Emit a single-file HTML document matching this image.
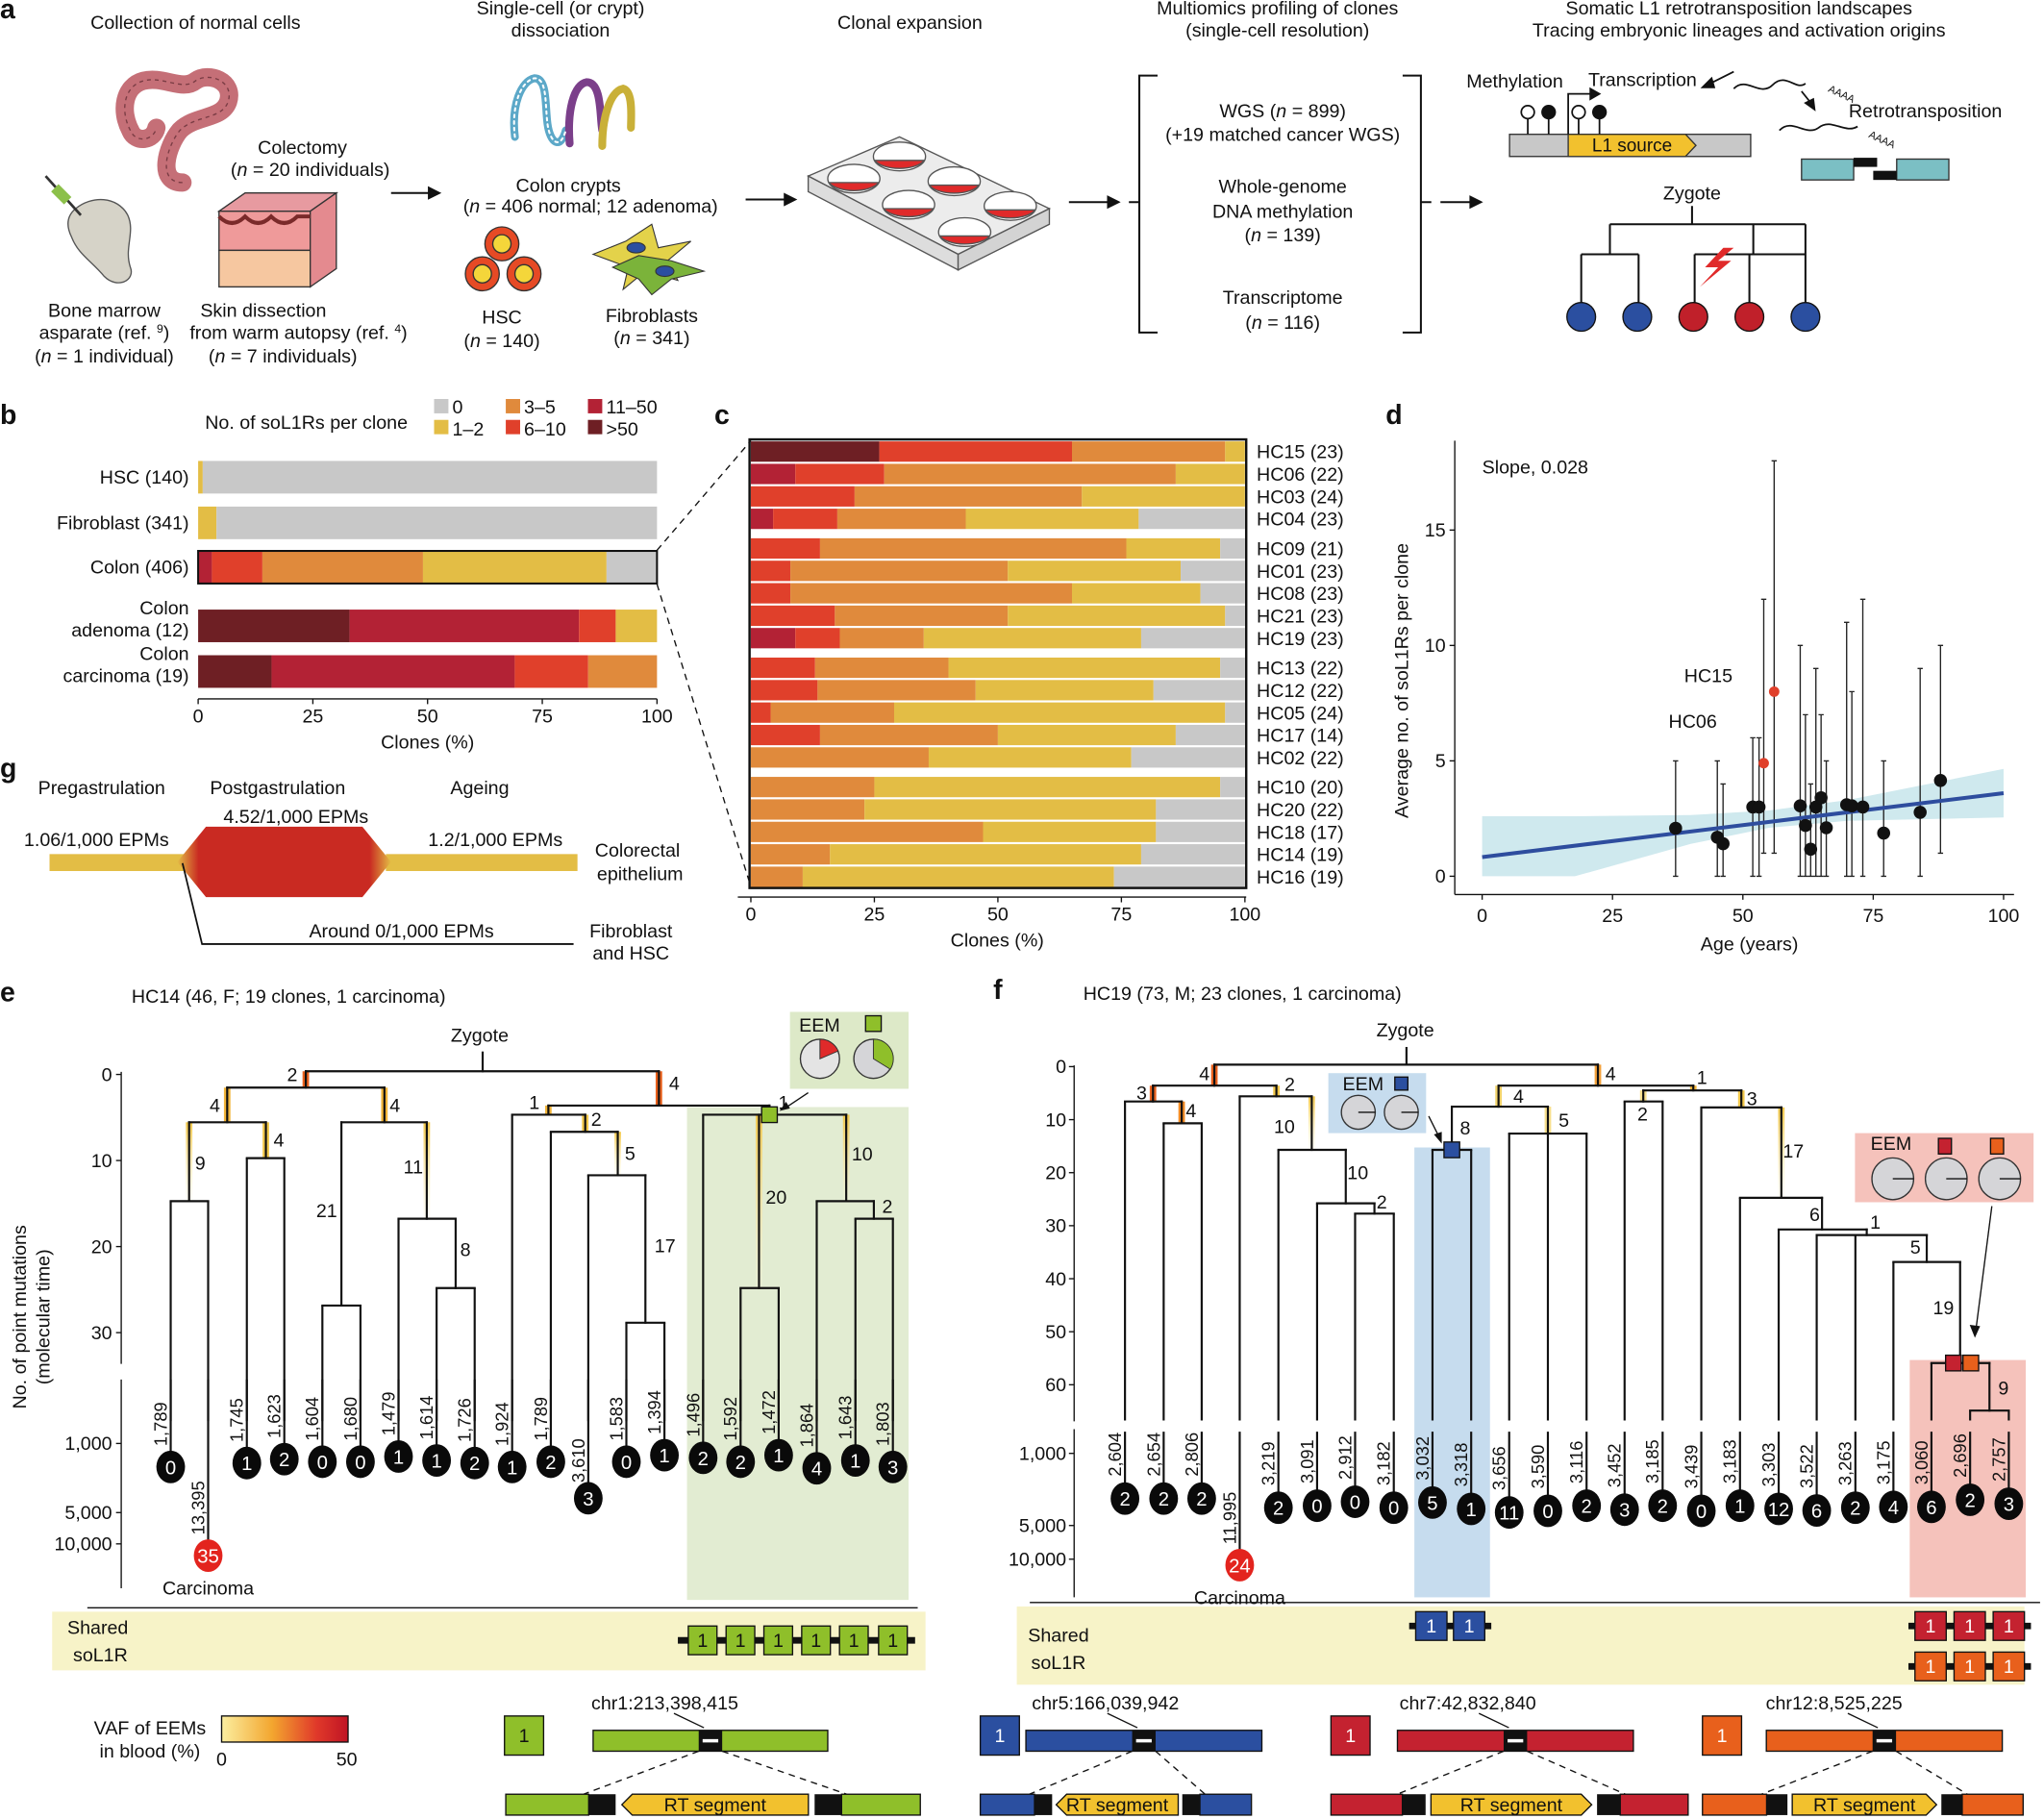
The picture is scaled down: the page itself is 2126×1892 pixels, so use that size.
<!DOCTYPE html>
<html><head><meta charset="utf-8"><style>
html,body{margin:0;padding:0;background:#fff;}
svg{display:block;font-family:"Liberation Sans",Arial,sans-serif;}
</style></head><body>
<svg id="fig" width="2126" height="1892" viewBox="0 0 1568 1395" preserveAspectRatio="none" xmlns="http://www.w3.org/2000/svg" font-size="14.5" fill="#111">
<defs>
<linearGradient id="vaf" x1="0" x2="1" y1="0" y2="0"><stop offset="0" stop-color="#fbeea0"/><stop offset="0.4" stop-color="#f3a62f"/><stop offset="0.75" stop-color="#e0392a"/><stop offset="1" stop-color="#c01424"/></linearGradient>
<linearGradient id="hex" x1="0" x2="1"><stop offset="0" stop-color="#e3bd45"/><stop offset="0.1" stop-color="#c92a22"/><stop offset="0.9" stop-color="#c92a22"/><stop offset="1" stop-color="#e3bd45"/></linearGradient>
<linearGradient id="fadeY" x1="0" x2="0" y1="0" y2="1"><stop offset="0" stop-color="#f2c84b"/><stop offset="1" stop-color="#fff8d8" stop-opacity="0.2"/></linearGradient>
</defs>

<!-- ============ PANEL A ============ -->
<g>
<text x="0" y="14" font-size="21" font-weight="bold">a</text>
<text x="150" y="22" text-anchor="middle">Collection of normal cells</text>
<text x="430" y="11" text-anchor="middle">Single-cell (or crypt)</text>
<text x="430" y="28" text-anchor="middle">dissociation</text>
<text x="698" y="22" text-anchor="middle">Clonal expansion</text>
<text x="980" y="11" text-anchor="middle">Multiomics profiling of clones</text>
<text x="980" y="28" text-anchor="middle">(single-cell resolution)</text>
<text x="1334" y="11" text-anchor="middle">Somatic L1 retrotransposition landscapes</text>
<text x="1334" y="28" text-anchor="middle">Tracing embryonic lineages and activation origins</text>

<path d="M140 140 C120 140 128 112 138 100 C150 88 170 92 175 78 C180 62 160 55 150 62 C140 70 125 58 110 62 C95 66 92 85 100 100 C104 110 118 108 120 98" fill="none" stroke="#c56f77" stroke-width="14" stroke-linecap="round"/>
<path d="M140 140 C120 140 128 112 138 100 C150 88 170 92 175 78 C180 62 160 55 150 62 C140 70 125 58 110 62 C95 66 92 85 100 100 C104 110 118 108 120 98" fill="none" stroke="#7a3c44" stroke-width="1" stroke-dasharray="3 3"/>
<text x="232" y="118" text-anchor="middle">Colectomy</text>
<text x="238" y="135" text-anchor="middle">(<tspan font-style="italic">n</tspan> = 20 individuals)</text>
<path d="M58 160 C70 150 90 150 98 165 C104 178 95 190 100 205 C104 215 90 222 80 212 C70 200 60 195 55 182 C50 172 52 165 58 160Z" fill="#d6d3c8" stroke="#555" stroke-width="1"/>
<line x1="35" y1="135" x2="62" y2="165" stroke="#333" stroke-width="2"/>
<rect x="40" y="145" width="14" height="8" fill="#8cc04a" transform="rotate(45 47 149)"/>
<g>
<polygon points="168,162 238,162 258,148 188,148" fill="#e79aa0" stroke="#333" stroke-width="1"/>
<rect x="168" y="162" width="70" height="30" fill="#ef9a9a" stroke="#333" stroke-width="1"/>
<rect x="168" y="192" width="70" height="28" fill="#f6c7a0" stroke="#333" stroke-width="1"/>
<polygon points="238,162 258,148 258,206 238,220" fill="#e48a8f" stroke="#333" stroke-width="1"/>
<path d="M168 166 Q178 176 188 166 Q198 176 208 166 Q218 176 228 166 L238 166" fill="none" stroke="#7a2a2a" stroke-width="3"/>
</g>
<text x="80" y="243" text-anchor="middle">Bone marrow</text>
<text x="80" y="260" text-anchor="middle">asparate (ref. <tspan font-size="9" dy="-5">9</tspan><tspan dy="5">)</tspan></text>
<text x="80" y="278" text-anchor="middle">(<tspan font-style="italic">n</tspan> = 1 individual)</text>
<text x="202" y="243" text-anchor="middle">Skin dissection</text>
<text x="229" y="260" text-anchor="middle">from warm autopsy (ref. <tspan font-size="9" dy="-5">4</tspan><tspan dy="5">)</tspan></text>
<text x="217" y="278" text-anchor="middle">(<tspan font-style="italic">n</tspan> = 7 individuals)</text>
<g stroke="#111" stroke-width="1.5" fill="#111">
<line x1="300" y1="148" x2="332" y2="148"/><polygon points="337,148 329,144 329,152"/>
<line x1="572" y1="153" x2="604" y2="153"/><polygon points="610,153 602,149 602,157"/>
<line x1="820" y1="155" x2="852" y2="155"/><polygon points="858,155 850,151 850,159"/>
<line x1="1105" y1="155" x2="1130" y2="155"/><polygon points="1136,155 1128,151 1128,159"/>
</g>
<g fill="none" stroke-width="6" stroke-linecap="round">
<path d="M395 105 C392 80 400 62 410 60 C420 60 418 80 420 95 C422 110 430 115 434 100" stroke="#5ca8c8"/>
<path d="M437 110 C435 85 440 65 450 63 C462 63 460 90 462 100" stroke="#7b3f8a"/>
<path d="M462 112 C462 90 468 70 478 68 C486 70 484 90 484 98" stroke="#c9b038"/>
<path d="M395 105 C392 80 400 62 410 60 C420 60 418 80 420 95 C422 110 430 115 434 100" stroke="#fff" stroke-width="1.5" stroke-dasharray="2 3"/>
</g>
<text x="436" y="147" text-anchor="middle">Colon crypts</text>
<text x="453" y="163" text-anchor="middle">(<tspan font-style="italic">n</tspan> = 406 normal; 12 adenoma)</text>
<g stroke="#333" stroke-width="1">
<circle cx="385" cy="187" r="13" fill="#e64a25"/><circle cx="385" cy="187" r="7" fill="#f4d63a"/>
<circle cx="370" cy="210" r="13" fill="#e64a25"/><circle cx="370" cy="210" r="7" fill="#f4d63a"/>
<circle cx="402" cy="210" r="13" fill="#e64a25"/><circle cx="402" cy="210" r="7" fill="#f4d63a"/>
</g>
<text x="385" y="248" text-anchor="middle">HSC</text>
<text x="385" y="266" text-anchor="middle">(<tspan font-style="italic">n</tspan> = 140)</text>
<g stroke="#333" stroke-width="0.8">
<path d="M455 195 L480 185 L500 172 L505 190 L530 185 L512 200 L520 215 L495 208 L478 222 L482 205Z" fill="#e3d24a"/>
<path d="M470 205 L490 196 L515 200 L540 208 L515 214 L500 226 L490 214Z" fill="#7bb33a"/>
<ellipse cx="488" cy="190" rx="7" ry="4" fill="#2b4fa0"/><ellipse cx="510" cy="208" rx="7" ry="4" fill="#2b4fa0"/>
</g>
<text x="500" y="247" text-anchor="middle">Fibroblasts</text>
<text x="500" y="264" text-anchor="middle">(<tspan font-style="italic">n</tspan> = 341)</text>
<g stroke="#555" stroke-width="1">
<polygon points="620,135 690,105 805,160 735,195" fill="#ececec"/>
<polygon points="620,135 735,195 735,207 620,147" fill="#ddd"/>
<polygon points="735,195 805,160 805,172 735,207" fill="#d3d3d3"/>
<ellipse cx="655" cy="137" rx="20" ry="11" fill="#fff"/><path d="M636 140 A20 9 0 0 0 674 140Z" fill="#e02a2a"/>
<ellipse cx="690" cy="120" rx="20" ry="11" fill="#fff"/><path d="M671 123 A20 9 0 0 0 709 123Z" fill="#e02a2a"/>
<ellipse cx="697" cy="157" rx="20" ry="11" fill="#fff"/><path d="M678 160 A20 9 0 0 0 716 160Z" fill="#e02a2a"/>
<ellipse cx="732" cy="139" rx="20" ry="11" fill="#fff"/><path d="M713 142 A20 9 0 0 0 751 142Z" fill="#e02a2a"/>
<ellipse cx="740" cy="178" rx="20" ry="11" fill="#fff"/><path d="M721 181 A20 9 0 0 0 759 181Z" fill="#e02a2a"/>
<ellipse cx="775" cy="158" rx="20" ry="11" fill="#fff"/><path d="M756 161 A20 9 0 0 0 794 161Z" fill="#e02a2a"/>
</g>
<g stroke="#111" stroke-width="1.5" fill="none">
<path d="M888 58 L874 58 L874 255 L888 255 M874 155 L866 155"/>
<path d="M1076 58 L1090 58 L1090 255 L1076 255 M1090 155 L1098 155"/>
</g>
<text x="984" y="90" text-anchor="middle">WGS (<tspan font-style="italic">n</tspan> = 899)</text>
<text x="984" y="108" text-anchor="middle">(+19 matched cancer WGS)</text>
<text x="984" y="148" text-anchor="middle">Whole-genome</text>
<text x="984" y="167" text-anchor="middle">DNA methylation</text>
<text x="984" y="185" text-anchor="middle">(<tspan font-style="italic">n</tspan> = 139)</text>
<text x="984" y="233" text-anchor="middle">Transcriptome</text>
<text x="984" y="252" text-anchor="middle">(<tspan font-style="italic">n</tspan> = 116)</text>
<g>
<text x="1162" y="67" text-anchor="middle">Methylation</text>
<text x="1260" y="66" text-anchor="middle">Transcription</text>
<rect x="1158" y="103" width="185" height="17" fill="#c8c8c8" stroke="#333" stroke-width="1"/>
<polygon points="1203,103 1293,103 1301,111.5 1293,120 1203,120" fill="#f2c12e" stroke="#333" stroke-width="1"/>
<text x="1252" y="116" text-anchor="middle" font-size="14">L1 source</text>
<g stroke="#111" stroke-width="1.3">
<line x1="1172" y1="103" x2="1172" y2="88"/><circle cx="1172" cy="86" r="5" fill="#fff"/>
<line x1="1188" y1="103" x2="1188" y2="88"/><circle cx="1188" cy="86" r="5" fill="#111"/>
<line x1="1211" y1="103" x2="1211" y2="88"/><circle cx="1211" cy="86" r="5" fill="#fff"/>
<line x1="1227" y1="103" x2="1227" y2="88"/><circle cx="1227" cy="86" r="5" fill="#111"/>
<path d="M1203 103 L1203 72 L1222 72" fill="none"/><polygon points="1227,72 1220,68 1220,76" fill="#111"/>
<path d="M1330 68 C1340 58 1350 75 1360 65 C1370 55 1378 70 1385 64" fill="none"/>
<path d="M1365 100 C1375 90 1385 105 1395 98 C1405 90 1415 103 1425 97" fill="none"/>
<path d="M1330 55 L1310 65" /><polygon points="1306,67 1313,60 1315,67" fill="#111"/>
<path d="M1382 70 L1390 80" /><polygon points="1392,84 1385,79 1391,76" fill="#111"/>
</g>
<text x="1402" y="70" font-size="8" transform="rotate(25 1402 70)">AAAA</text>
<text x="1433" y="105" font-size="8" transform="rotate(25 1433 105)">AAAA</text>
<text x="1477" y="90" text-anchor="middle">Retrotransposition</text>
<rect x="1382" y="122" width="40" height="16" fill="#7bbfc4" stroke="#333" stroke-width="1"/>
<rect x="1455" y="122" width="40" height="16" fill="#7bbfc4" stroke="#333" stroke-width="1"/>
<rect x="1422" y="121" width="18" height="7" fill="#111"/><rect x="1437" y="131" width="18" height="7" fill="#111"/>
<text x="1298" y="153" text-anchor="middle">Zygote</text>
<path d="M1298 158 L1298 172 M1235 172 L1385 172 M1235 172 L1235 195 M1213 195 L1257 195 M1213 195 L1213 232 M1257 195 L1257 232 M1345 172 L1345 195 M1300 195 L1385 195 M1300 195 L1300 232 M1342 195 L1342 232 M1385 172 L1385 232" stroke="#111" stroke-width="1.5" fill="none"/>
<polygon points="1322,190 1308,205 1318,205 1304,220 1328,200 1318,200 1330,190" fill="#e02a2a"/>
<circle cx="1213" cy="243" r="11" fill="#2b4fa0" stroke="#111"/>
<circle cx="1256" cy="243" r="11" fill="#2b4fa0" stroke="#111"/>
<circle cx="1299" cy="243" r="11" fill="#c0202a" stroke="#111"/>
<circle cx="1342" cy="243" r="11" fill="#c0202a" stroke="#111"/>
<circle cx="1385" cy="243" r="11" fill="#2b4fa0" stroke="#111"/>
</g>
</g>

<!-- ============ PANEL B ============ -->
<g id="panelB">
<text x="0" y="325" font-size="21" font-weight="bold">b</text>
<text x="235" y="329" text-anchor="middle">No. of soL1Rs per clone</text>
<g>
<rect x="333" y="306" width="11" height="11" fill="#c8c8c8"/><text x="347" y="317">0</text>
<rect x="333" y="322" width="11" height="11" fill="#e3bd45"/><text x="347" y="334">1–2</text>
<rect x="388" y="306" width="11" height="11" fill="#e08a3c"/><text x="402" y="317">3–5</text>
<rect x="388" y="322" width="11" height="11" fill="#e0402b"/><text x="402" y="334">6–10</text>
<rect x="451" y="306" width="11" height="11" fill="#b32235"/><text x="465" y="317">11–50</text>
<rect x="451" y="322" width="11" height="11" fill="#6e1f24"/><text x="465" y="334">&gt;50</text>
</g>
<line x1="152" y1="536" x2="504" y2="536" stroke="#111"/>
<text x="328" y="574" text-anchor="middle">Clones (%)</text>
<g stroke="#111" stroke-dasharray="5 4"><line x1="504" y1="422" x2="576" y2="338"/><line x1="504" y1="448" x2="576" y2="680"/></g>
</g>

<!-- ============ PANEL C ============ -->
<g id="panelC">
<text x="548" y="325" font-size="21" font-weight="bold">c</text>
<line x1="566" y1="688" x2="956" y2="688" stroke="#111"/>
<text x="765" y="726" text-anchor="middle">Clones (%)</text>
</g>

<!-- ============ PANEL D ============ -->
<g id="panelD">
<text x="1063" y="325" font-size="21" font-weight="bold">d</text>
<line x1="1116" y1="338" x2="1116" y2="686" stroke="#111"/>
<line x1="1116" y1="686" x2="1545" y2="686" stroke="#111"/>
<text x="1342" y="729" text-anchor="middle">Age (years)</text>
<text transform="translate(1080 522) rotate(-90)" text-anchor="middle">Average no. of soL1Rs per clone</text>
<text x="1137" y="363">Slope, 0.028</text>
<text x="1292" y="523">HC15</text>
<text x="1280" y="558">HC06</text>
</g>

<!-- ============ PANEL G ============ -->
<g>
<text x="0" y="596" font-size="21" font-weight="bold">g</text>
<text x="78" y="609" text-anchor="middle">Pregastrulation</text>
<text x="213" y="609" text-anchor="middle">Postgastrulation</text>
<text x="368" y="609" text-anchor="middle">Ageing</text>
<rect x="38" y="655" width="104" height="13" fill="#e3bd45"/>
<rect x="296" y="655" width="147" height="13" fill="#e3bd45"/>
<polygon points="136,661 158,634 278,634 300,661 278,688 158,688" fill="url(#hex)"/>
<text x="74" y="649" text-anchor="middle">1.06/1,000 EPMs</text>
<text x="227" y="631" text-anchor="middle">4.52/1,000 EPMs</text>
<text x="380" y="649" text-anchor="middle">1.2/1,000 EPMs</text>
<text x="489" y="657" text-anchor="middle">Colorectal</text>
<text x="491" y="675" text-anchor="middle">epithelium</text>
<path d="M140 662 L155 724 L440 724" fill="none" stroke="#111" stroke-width="1.3"/>
<text x="308" y="719" text-anchor="middle">Around 0/1,000 EPMs</text>
<text x="484" y="719" text-anchor="middle">Fibroblast</text>
<text x="484" y="736" text-anchor="middle">and HSC</text>
</g>

<!-- ============ PANEL E ============ -->
<g id="panelE">
<text x="0" y="768" font-size="21" font-weight="bold">e</text>
<text x="101" y="769">HC14 (46, F; 19 clones, 1 carcinoma)</text>
<rect x="527" y="849" width="170" height="378" fill="#e2ecd2"/>
<rect x="606" y="776" width="91" height="59" fill="#dde9c8"/>
<text x="613" y="791">EEM</text>
<rect x="664" y="779" width="12" height="12" fill="#8fbf2a" stroke="#111"/>
<circle cx="629" cy="812" r="15" fill="#e4e4e4" stroke="#333"/>
<path d="M629 812 L629 797 A15 15 0 0 1 643 806 Z" fill="#e02a2a" stroke="#333" stroke-width="0.7"/>
<circle cx="670" cy="812" r="15" fill="#d5d5d8" stroke="#333"/>
<path d="M670 812 L670 797 A15 15 0 0 1 683 820 Z" fill="#8fbf2a" stroke="#333" stroke-width="0.7"/>
<path d="M620 838 L602 850" stroke="#111"/><polygon points="598,852 603,845 606,850" fill="#111"/>
<text x="368" y="799" text-anchor="middle">Zygote</text>
<line x1="93" y1="822" x2="93" y2="1046" stroke="#111"/>
<line x1="93" y1="1058" x2="93" y2="1218" stroke="#111"/>
<text transform="translate(20 1010) rotate(-90)" text-anchor="middle">No. of point mutations</text>
<text transform="translate(38 1010) rotate(-90)" text-anchor="middle">(molecular time)</text>
<line x1="67" y1="1233" x2="704" y2="1233" stroke="#111"/>
<rect x="40" y="1236" width="670" height="45" fill="#f7f3c8"/>
<text x="75" y="1253" text-anchor="middle">Shared</text>
<text x="77" y="1274" text-anchor="middle">soL1R</text>
<text x="115" y="1330" text-anchor="middle">VAF of EEMs</text>
<text x="115" y="1348" text-anchor="middle">in blood (%)</text>
<rect x="170" y="1316" width="97" height="20" fill="url(#vaf)" stroke="#111"/>
<text x="170" y="1354" text-anchor="middle">0</text>
<text x="266" y="1354" text-anchor="middle">50</text>
</g>

<!-- ============ PANEL F ============ -->
<g id="panelF">
<text x="762" y="766" font-size="21" font-weight="bold">f</text>
<text x="831" y="767">HC19 (73, M; 23 clones, 1 carcinoma)</text>
<rect x="1085" y="880" width="58" height="345" fill="#c6dcee"/>
<rect x="1465" y="1043" width="89" height="182" fill="#f5c2bb"/>
<rect x="1019" y="823" width="75" height="46" fill="#c6dcee"/>
<text x="1030" y="836">EEM</text>
<rect x="1070" y="826" width="10" height="10" fill="#2b4fa0" stroke="#111"/>
<circle cx="1042" cy="853" r="13" fill="#d5d5d8" stroke="#333"/><line x1="1042" y1="853" x2="1055" y2="853" stroke="#111"/>
<circle cx="1075" cy="853" r="13" fill="#d5d5d8" stroke="#333"/><line x1="1075" y1="853" x2="1088" y2="853" stroke="#111"/>
<path d="M1096 856 L1104 872" stroke="#111"/><polygon points="1106,877 1100,870 1106,868" fill="#111"/>
<rect x="1423" y="869" width="137" height="53" fill="#f5c2bb"/>
<text x="1435" y="882">EEM</text>
<rect x="1487" y="873" width="10" height="12" fill="#c42230" stroke="#111"/>
<rect x="1527" y="873" width="10" height="12" fill="#e8601c" stroke="#111"/>
<circle cx="1452" cy="904" r="16" fill="#d5d5d8" stroke="#333"/><line x1="1452" y1="904" x2="1468" y2="904" stroke="#111"/>
<circle cx="1493" cy="904" r="16" fill="#d5d5d8" stroke="#333"/><line x1="1493" y1="904" x2="1509" y2="904" stroke="#111"/>
<circle cx="1534" cy="904" r="16" fill="#d5d5d8" stroke="#333"/><line x1="1534" y1="904" x2="1550" y2="904" stroke="#111"/>
<path d="M1528 925 L1516 1018" stroke="#111"/><polygon points="1515,1026 1511,1016 1519,1017" fill="#111"/>
<text x="1078" y="795" text-anchor="middle">Zygote</text>
<line x1="824" y1="817" x2="824" y2="1090" stroke="#111"/>
<line x1="824" y1="1096" x2="824" y2="1225" stroke="#111"/>
<line x1="790" y1="1229" x2="1565" y2="1229" stroke="#111"/>
<rect x="780" y="1232" width="773" height="60" fill="#f7f3c8"/>
<text x="812" y="1259" text-anchor="middle">Shared</text>
<text x="812" y="1280" text-anchor="middle">soL1R</text>
</g>

<g id="bottomInserts"></g>
</svg>

<script>
var NS = "http://www.w3.org/2000/svg";
function mk(tag, attrs, parent) {
  var el = document.createElementNS(NS, tag);
  for (var k in attrs) el.setAttribute(k, attrs[k]);
  (parent || document.getElementById('fig')).appendChild(el);
  return el;
}

/* ===== Panel b data ===== */
var bCategories = ['HSC (140)', 'Fibroblast (341)', 'Colon (406)', 'Colon|adenoma (12)', 'Colon|carcinoma (19)'];
var bGt50 = [0, 0, 0, 33, 16];
var b11to50 = [0, 0, 3, 50, 53];
var b6to10 = [0, 0, 11, 8, 16];
var b3to5 = [0, 0, 35, 0, 15];
var b1to2 = [1, 4, 40, 9, 0];
var bZero = [99, 96, 11, 0, 0];
var bTicks = [0, 25, 50, 75, 100];

/* ===== Panel c data ===== */
var cClones = ['HC15 (23)','HC06 (22)','HC03 (24)','HC04 (23)','HC09 (21)','HC01 (23)','HC08 (23)','HC21 (23)','HC19 (23)','HC13 (22)','HC12 (22)','HC05 (24)','HC17 (14)','HC02 (22)','HC10 (20)','HC20 (22)','HC18 (17)','HC14 (19)','HC16 (19)'];
var cGroup = [0,0,0,0,1,1,1,1,1,2,2,2,2,2,3,3,3,3,3];
var cGt50 = [26,0,0,0,0,0,0,0,0,0,0,0,0,0,0,0,0,0,0];
var c11to50 = [0,9,0,4.5,0,0,0,0,9,0,0,0,0,0,0,0,0,0,0];
var c6to10 = [39,18,21,13,14,8,8,17,9,13,13.5,4,14,0,0,0,0,0,0];
var c3to5 = [31,59,46,26,62,44,57,35,17,27,32,25,36,36,25,23,47,16,10.5];
var c1to2 = [4,14,33,35,19,35,26,44,44,55,36,67,36,41,70,59,35,63,63];
var cZero = [0,0,0,21.5,5,13,9,4,21,5,18.5,4,14,23,5,18,18,21,26.5];
var cTicks = [0, 25, 50, 75, 100];

/* ===== Panel d data ===== */
var dAges = [37.1,45.1,46.2,51.9,53.1,54.0,56.0,61.0,62.0,63.0,64.0,65.0,66.0,69.9,70.9,73.0,77.0,84.0,87.9];
var dMeans = [2.08,1.69,1.41,3.0,3.0,4.9,8.0,3.05,2.2,1.17,3.0,3.4,2.1,3.1,3.05,3.0,1.87,2.77,4.15];
var dLow = [0,0,0,0,0,1,1,0,0,0,0,0,0,0,0,0,0,0,1];
var dHigh = [5,5,4,6,6,12,18,10,7,4,9,7,5,11,8,12,5,9,10];
var dHighlight = [0,0,0,0,0,1,1,0,0,0,0,0,0,0,0,0,0,0,0];
var dFitAges = [0, 100];
var dFitValues = [0.83, 3.6];
var dBandAges = [0, 17.8, 40, 55, 70, 100];
var dBandHi = [2.6, 2.6, 2.65, 2.85, 3.3, 4.65];
var dBandLo = [0, 0, 1.4, 2.1, 2.4, 2.55];
var dXTicks = [0, 25, 50, 75, 100];
var dYTicks = [0, 5, 10, 15];

var colors = ['#6e1f24', '#b32235', '#e0402b', '#e08a3c', '#e3bd45', '#c8c8c8'];
var segNames = ['gt50', '11-50', '6-10', '3-5', '1-2', 'zero'];

/* ---- draw b ---- */
(function(){
  var g = document.getElementById('panelB');
  var x0 = 152, x1 = 504;
  function bx(v){ return x0 + (x1 - x0) * v / 100; }
  var yC = [366, 401, 435, 480, 515];
  var series = [bGt50, b11to50, b6to10, b3to5, b1to2, bZero];
  bCategories.forEach(function(cat, i){
    var acc = 0;
    series.forEach(function(s, k){
      var v = s[i];
      if (v > 0) {
        var r = mk('rect', {x: bx(acc), y: yC[i] - 12.5, width: bx(acc + v) - bx(acc), height: 25, fill: colors[k]}, g);
        
        
      }
      acc += v;
    });
    var parts = cat.split('|');
    parts.forEach(function(p, j){
      var t = mk('text', {x: 145, y: yC[i] + 5 - (parts.length - 1 - j) * 17 + (parts.length > 1 ? 3 : 0), 'text-anchor': 'end'}, g);
      t.textContent = p;
      
      
    });
  });
  var o = mk('rect', {x: bx(0), y: yC[2] - 12.5, width: bx(100) - bx(0), height: 25, fill: 'none', stroke: '#111', 'stroke-width': 1.5}, g);
  
  
  bTicks.forEach(function(t){
    var l = mk('line', {x1: bx(t), x2: bx(t), y1: 536, y2: 540, stroke: '#111'}, g);
    
    
    var tx = mk('text', {x: bx(t), y: 554, 'text-anchor': 'middle'}, g);
    tx.textContent = t;
    
    
  });
})();

/* ---- draw c ---- */
(function(){
  var g = document.getElementById('panelC');
  var x0 = 576, x1 = 955;
  function cx(v){ return x0 + (x1 - x0) * v / 100; }
  var series = [cGt50, c11to50, c6to10, c3to5, c1to2, cZero];
  cClones.forEach(function(name, i){
    var top = 338.5 + i * 17.2 + cGroup[i] * 5.5;
    var acc = 0;
    series.forEach(function(s, k){
      var v = s[i];
      if (v > 0) {
        var r = mk('rect', {x: cx(acc), y: top, width: cx(acc + v) - cx(acc), height: 15.6, fill: colors[k]}, g);
        
        
      }
      acc += v;
    });
    var t = mk('text', {x: 964, y: top + 13}, g);
    t.textContent = name;
    
    
  });
  var fr = mk('rect', {x: 575, y: 337, width: 381, height: 344, fill: 'none', stroke: '#111', 'stroke-width': 1.8}, g);
  
  
  cTicks.forEach(function(t){
    var l = mk('line', {x1: cx(t), x2: cx(t), y1: 688, y2: 692, stroke: '#111'}, g);
    
    
    var tx = mk('text', {x: cx(t), y: 706, 'text-anchor': 'middle'}, g);
    tx.textContent = t;
    
    
  });
})();

/* ---- draw d ---- */
(function(){
  var g = document.getElementById('panelD');
  function dx(a){ return 1137 + a * 4.0; }
  function dy(v){ return 672 - v * 17.7; }
  var pts = [];
  dBandAges.forEach(function(a, i){ pts.push(dx(a) + ',' + dy(dBandHi[i])); });
  for (var i = dBandAges.length - 1; i >= 0; i--) pts.push(dx(dBandAges[i]) + ',' + dy(dBandLo[i]));
  var band = mk('polygon', {points: pts.join(' '), fill: '#cfe9ee'}, g);
  
  
  dAges.forEach(function(a, i){
    var x = dx(a);
    var e = mk('path', {d: 'M' + x + ' ' + dy(dLow[i]) + 'L' + x + ' ' + dy(dHigh[i]) + 'M' + (x-2) + ' ' + dy(dLow[i]) + 'L' + (x+2) + ' ' + dy(dLow[i]) + 'M' + (x-2) + ' ' + dy(dHigh[i]) + 'L' + (x+2) + ' ' + dy(dHigh[i]), stroke: '#222', 'stroke-width': 1, fill: 'none'}, g);
    
    
  });
  var fl = mk('line', {x1: dx(dFitAges[0]), y1: dy(dFitValues[0]), x2: dx(dFitAges[1]), y2: dy(dFitValues[1]), stroke: '#2e4d9e', 'stroke-width': 3}, g);
  
  
  dAges.forEach(function(a, i){
    var c = mk('circle', {cx: dx(a), cy: dy(dMeans[i]), r: dHighlight[i] ? 4 : 5, fill: dHighlight[i] ? '#e0402b' : '#111'}, g);
    
    
  });
  dXTicks.forEach(function(t){
    var l = mk('line', {x1: dx(t), x2: dx(t), y1: 686, y2: 690, stroke: '#111'}, g);
    
    
    var tx = mk('text', {x: dx(t), y: 707, 'text-anchor': 'middle'}, g);
    tx.textContent = t;
    
    
  });
  dYTicks.forEach(function(t){
    var l = mk('line', {x1: 1112, x2: 1116, y1: dy(t), y2: dy(t), stroke: '#111'}, g);
    
    
    var tx = mk('text', {x: 1109, y: dy(t) + 5, 'text-anchor': 'end'}, g);
    tx.textContent = t;
    
    
  });
})();

/* ---- tree helper ---- */
function drawTree(g, mx, my, segs, marks, leaves, leafNums, leafLabels, leafCY, labelBottom, upperEnd, lowerStart, branchLabels, prefix) {
  marks.forEach(function(m){
    var r = mk('rect', {x: mx(m[0]) - 2.5, y: my(m[1]), width: 5, height: my(m[2]) - my(m[1]), fill: m[3]}, g);
    
    
  });
  segs.forEach(function(s){
    var l = mk('line', {x1: mx(s[0]), y1: my(s[1]), x2: mx(s[2]), y2: my(s[3]), stroke: '#111', 'stroke-width': 1.6, 'stroke-linecap': 'square'}, g);
    
    
  });
  leaves.forEach(function(zx, i){
    var x = mx(zx);
    var l1 = mk('line', {x1: x, y1: my(upperEnd[i]), x2: x, y2: my(1080), stroke: '#111', 'stroke-width': 1.6}, g);
    
    
    var cy = leafCY[i];
    var l2 = mk('line', {x1: x, y1: lowerStart, x2: x, y2: cy, stroke: '#111', 'stroke-width': 1.6}, g);
    
    
    var red = leafNums[i] === 'C';
    var el = mk('ellipse', {cx: x, cy: cy, rx: 11, ry: 12.5, fill: red ? '#e3241e' : '#0a0a0a'}, g);
    
    
    var t = mk('text', {x: x, y: cy + 5.5, 'text-anchor': 'middle', fill: '#fff', 'font-size': 15}, g);
    t.textContent = red ? leafLabels[i][1] : leafNums[i];
    
    
    var lab = red ? leafLabels[i][0] : leafLabels[i];
    var by = red ? cy - 16 : labelBottom[i];
    var rt = mk('text', {x: x - 3, y: by, 'font-size': 13.5, transform: 'rotate(-90 ' + (x - 3) + ' ' + by + ')'}, g);
    rt.textContent = lab;
    
    
    if (red) {
      var ct = mk('text', {x: x, y: cy + 30, 'text-anchor': 'middle'}, g);
      ct.textContent = 'Carcinoma';
      
      
    }
  });
  branchLabels.forEach(function(b){
    var t = mk('text', {x: mx(b[0]), y: my(b[1]) + 5, 'text-anchor': 'middle'}, g);
    t.textContent = b[2];
    
    
  });
}

/* ---- panel e tree ---- */
(function(){
  var g = document.getElementById('panelE');
  function mx(z){ return 130 + (z - 278) * 0.4711; }
  function my(z){ return 824 + (z - 210) * 0.3056; }
  var segs = [[788,155,788,202],[500,202,1075,202],[500,202,500,243],[372,243,628,243],[372,243,372,330],[310,330,435,330],[310,330,310,528],[280,528,341,528],[435,330,435,420],[404,420,465,420],[628,243,628,330],[558,330,697,330],[558,330,558,790],[527,790,589,790],[697,330,697,572],[651,572,744,572],[744,572,744,746],[713,746,775,746],[1075,202,1075,288],[895,288,1255,288],[895,288,895,311],[836,311,955,311],[955,311,955,354],[899,354,1008,354],[1008,354,1008,463],[960,463,1053,463],[1053,463,1053,833],[1022,833,1084,833],[1255,288,1255,311],[1147,311,1380,311],[1238,311,1238,746],[1208,746,1270,746],[1380,311,1380,528],[1332,528,1425,528],[1425,528,1425,572],[1395,572,1456,572]];
  var marks = [[500,202,243,'#e8601c'],[1075,202,288,'#e8601c'],[372,243,330,'#f2b53a'],[628,243,330,'#f2b53a'],[310,330,528,'url(#fadeY)'],[435,330,420,'#f2c84b'],[697,330,572,'url(#fadeY)'],[895,288,311,'#f2b53a'],[955,311,354,'#f2c84b'],[1008,354,463,'url(#fadeY)'],[1238,311,746,'url(#fadeY)'],[1380,311,528,'url(#fadeY)']];
  var leaves = [280,341,404,465,527,589,651,713,775,836,899,960,1022,1084,1147,1208,1270,1332,1395,1456];
  var upper = [528,528,420,420,790,790,572,746,746,311,354,463,833,833,311,746,746,528,572,572];
  var nums = ['0','C','1','2','0','0','1','1','2','1','2','3','0','1','2','2','1','4','1','3'];
  var labs = ['1,789',['13,395','35'],'1,745','1,623','1,604','1,680','1,479','1,614','1,726','1,924','1,789','3,610','1,583','1,394','1,496','1,592','1,472','1,864','1,643','1,803'];
  var cys = [1125,1193,1122,1119,1121,1121,1117,1120,1122,1125,1121,1149,1121,1116,1118,1121,1116,1126,1120,1125];
  var lb = cys.map(function(c, i){ return i === 11 ? 1137 : c - 16; });
  var bl = [[478,210,'2'],[1100,232,'4'],[352,288,'4'],[645,288,'4'],[456,375,'4'],[328,432,'9'],[675,442,'11'],[534,552,'21'],[760,650,'8'],[872,280,'1'],[973,322,'2'],[1028,408,'5'],[1085,640,'17'],[1278,280,'1'],[1266,518,'20'],[1406,410,'10'],[1447,541,'2']];
  drawTree(g, mx, my, segs, marks, leaves, nums, labs, cys, lb, upper, 1058, bl, 'e');
  var sq = mk('rect', {x: mx(1255) - 6, y: my(311) - 6, width: 12, height: 12, fill: '#8fbf2a', stroke: '#111'}, g);
  
  
  var ticks = [[0,0],[10,10],[20,20],[30,30]];
  ticks.forEach(function(t){
    var y = 824 + t[0] * 6.6;
    var l = mk('line', {x1: 89, x2: 93, y1: y, y2: y, stroke: '#111'}, g);
    
    
    var tx = mk('text', {x: 86, y: y + 5, 'text-anchor': 'end'}, g);
    tx.textContent = t[1];
    
    
  });
  [['1,000',1107],['5,000',1160],['10,000',1184]].forEach(function(t){
    var l = mk('line', {x1: 89, x2: 93, y1: t[1], y2: t[1], stroke: '#111'}, g);
    
    
    var tx = mk('text', {x: 86, y: t[1] + 5, 'text-anchor': 'end'}, g);
    tx.textContent = t[0];
    
    
  });
  var bxs = [539,568,597,626,655,685];
  var cl = mk('line', {x1: 520, x2: 702, y1: 1258, y2: 1258, stroke: '#111', 'stroke-width': 5}, g);
  
  
  bxs.forEach(function(x){
    var r = mk('rect', {x: x - 11, y: 1247, width: 22, height: 22, fill: '#8fbf2a', stroke: '#111'}, g);
    
    
    var t = mk('text', {x: x, y: 1263, 'text-anchor': 'middle'}, g);
    t.textContent = '1';
    
    
  });
})();

/* ---- panel f tree ---- */
(function(){
  var g = document.getElementById('panelF');
  function mx(z){ return 863 + (z - 188) * 0.5117; }
  function my(z){ return 818 + (z - 187) * 0.3039; }
  var segs = [[610,140,610,182],[322,182,897,182],[322,182,322,235],[230,235,415,235],[230,235,230,275],[188,275,273,275],[273,275,273,330],[246,330,303,330],[415,235,415,262],[360,262,468,262],[468,262,468,397],[418,397,519,397],[519,397,519,532],[476,532,562,532],[562,532,562,558],[533,558,591,558],[897,182,897,235],[748,235,1040,235],[748,235,748,288],[678,288,822,288],[678,288,678,397],[649,397,707,397],[822,288,822,356],[764,356,880,356],[1040,235,1040,247],[965,247,1112,247],[965,247,965,275],[937,275,994,275],[1112,247,1112,290],[1052,290,1172,290],[1172,290,1172,518],[1110,518,1233,518],[1233,518,1233,598],[1168,598,1300,598],[1300,598,1300,612],[1225,612,1390,612],[1390,612,1390,680],[1340,680,1440,680],[1440,680,1440,935],[1397,935,1484,935],[1484,935,1484,1055],[1455,1055,1513,1055]];
  var marks = [[322,182,235,'#e8601c'],[897,182,235,'#f2a03a'],[230,235,275,'#e8601c'],[273,275,330,'#f08a25'],[415,235,262,'#f2c84b'],[468,262,397,'url(#fadeY)'],[748,235,288,'#f2d36a'],[822,288,356,'#f7df8c'],[1040,235,247,'#f2b53a'],[965,247,275,'#f7df8c'],[1112,247,290,'#f2c84b'],[1172,290,518,'url(#fadeY)']];
  var leaves = [188,246,303,360,418,476,533,591,649,707,764,822,880,937,994,1052,1110,1168,1225,1283,1340,1397,1455,1513];
  var upper = [275,330,330,262,397,532,558,558,397,397,356,356,356,275,275,290,518,598,612,612,680,935,1055,1055];
  var nums = ['2','2','2','C','2','0','0','0','5','1','11','0','2','3','2','0','1','12','6','2','4','6','2','3'];
  var labs = ['2,604','2,654','2,806',['11,995','24'],'3,219','3,091','2,912','3,182','3,032','3,318','3,656','3,590','3,116','3,452','3,185','3,439','3,183','3,303','3,522','3,263','3,175','3,060','2,696','2,757'];
  var zcy = [1277,1277,1277,1445,1300,1295,1285,1300,1287,1303,1312,1308,1295,1305,1295,1308,1295,1303,1307,1300,1298,1298,1280,1290];
  var cys = zcy.map(function(z){ return my(z); });
  var lb = cys.map(function(c){ return c - 17; });
  var bl = [[307,205,'4'],[916,205,'4'],[213,253,'3'],[435,232,'2'],[287,298,'4'],[1053,215,'1'],[778,262,'4'],[846,322,'5'],[698,342,'8'],[964,307,'2'],[1128,268,'3'],[427,338,'10'],[537,455,'10'],[573,528,'2'],[1190,400,'17'],[1222,560,'6'],[1313,580,'1'],[1373,643,'5'],[1415,795,'19'],[1505,998,'9']];
  drawTree(g, mx, my, segs, marks, leaves, nums, labs, cys, lb, upper, 1098, bl, 'f');
  var s1 = mk('rect', {x: mx(678) - 6, y: my(397) - 6, width: 12, height: 12, fill: '#2b4fa0', stroke: '#111'}, g);
  
  
  var s2 = mk('rect', {x: mx(1430) - 6, y: my(935) - 6, width: 12, height: 12, fill: '#c42230', stroke: '#111'}, g);
  
  
  var s3 = mk('rect', {x: mx(1456) - 6, y: my(935) - 6, width: 12, height: 12, fill: '#e8601c', stroke: '#111'}, g);
  
  
  [0,10,20,30,40,50,60].forEach(function(t){
    var y = my(187 + t * 13.38);
    var l = mk('line', {x1: 820, x2: 824, y1: y, y2: y, stroke: '#111'}, g);
    
    
    var tx = mk('text', {x: 818, y: y + 5, 'text-anchor': 'end'}, g);
    tx.textContent = t;
    
    
  });
  [['1,000',1163],['5,000',1345],['10,000',1430]].forEach(function(t){
    var y = my(t[1]);
    var l = mk('line', {x1: 820, x2: 824, y1: y, y2: y, stroke: '#111'}, g);
    
    
    var tx = mk('text', {x: 818, y: y + 5, 'text-anchor': 'end'}, g);
    tx.textContent = t[0];
    
    
  });
  function boxRow(xs, y, fill, name){
    var cl = mk('line', {x1: xs[0] - 17, x2: xs[xs.length-1] + 17, y1: y, y2: y, stroke: '#111', 'stroke-width': 5}, g);
    
    
    xs.forEach(function(x){
      var r = mk('rect', {x: x - 12, y: y - 11, width: 24, height: 22, fill: fill, stroke: '#111'}, g);
      
      
      var t = mk('text', {x: x, y: y + 5, 'text-anchor': 'middle', fill: '#fff'}, g);
      t.textContent = '1';
      
      
    });
  }
  boxRow([1098, 1127], 1247, '#2b4fa0', 'f-shared-blue');
  boxRow([1481, 1511, 1541], 1247, '#c42230', 'f-shared-red');
  boxRow([1481, 1511, 1541], 1278, '#e8601c', 'f-shared-orange');
})();

/* ---- insertion diagrams ---- */
(function(){
  var g = document.getElementById('bottomInserts');
  var ins = [
    {box: 387, bar: 455, barEnd: 635, low: 388, lowEnd: 706, col: '#8fbf2a', lbl: 'chr1:213,398,415', lx: 510, txt: '#111', left: true},
    {box: 752, bar: 787, barEnd: 968, low: 752, lowEnd: 960, col: '#2b4fa0', lbl: 'chr5:166,039,942', lx: 848, txt: '#fff', left: true},
    {box: 1021, bar: 1072, barEnd: 1253, low: 1021, lowEnd: 1295, col: '#c42230', lbl: 'chr7:42,832,840', lx: 1126, txt: '#fff', left: false},
    {box: 1306, bar: 1355, barEnd: 1536, low: 1306, lowEnd: 1552, col: '#e8601c', lbl: 'chr12:8,525,225', lx: 1407, txt: '#fff', left: false}
  ];
  ins.forEach(function(d, i){
    var b = mk('rect', {x: d.box, y: 1316, width: 30, height: 30, fill: d.col, stroke: '#111'}, g);
    
    
    var bt = mk('text', {x: d.box + 15, y: 1336, 'text-anchor': 'middle', fill: d.txt}, g);
    bt.textContent = '1';
    
    
    var lt = mk('text', {x: d.lx, y: 1311, 'text-anchor': 'middle'}, g);
    lt.textContent = d.lbl;
    
    
    var mid = (d.bar + d.barEnd) / 2;
    var br = mk('rect', {x: d.bar, y: 1327, width: d.barEnd - d.bar, height: 16, fill: d.col, stroke: '#111'}, g);
    
    
    var ib = mk('rect', {x: mid - 9, y: 1327, width: 18, height: 16, fill: '#111'}, g);
    
    
    var iw = mk('line', {x1: mid - 6, x2: mid + 6, y1: 1335, y2: 1335, stroke: '#fff', 'stroke-width': 2.5}, g);
    
    
    var ar = mk('path', {d: 'M' + (mid - 28) + ' 1314 L' + (mid - 5) + ' 1325', stroke: '#111', fill: 'none'}, g);
    
    
    var lw = d.low, le = d.lowEnd, w = le - lw;
    var f1 = lw + w * 0.2, k = w * 0.065, gap = w * 0.015;
    var r2 = le - w * 0.19;
    var rs = f1 + k + gap, re = r2 - k - gap;
    var dl = mk('path', {d: 'M' + (mid - 9) + ' 1343 L' + (f1 - 4) + ' 1376 M' + (mid + 9) + ' 1343 L' + (r2 + 4) + ' 1376', stroke: '#111', 'stroke-dasharray': '5 4', fill: 'none'}, g);
    
    
    var a1 = mk('rect', {x: lw, y: 1376, width: f1 - lw, height: 16, fill: d.col, stroke: '#111'}, g);
    
    
    var a2 = mk('rect', {x: r2, y: 1376, width: le - r2, height: 16, fill: d.col, stroke: '#111'}, g);
    
    
    var k1 = mk('rect', {x: f1, y: 1376, width: k, height: 16, fill: '#111'}, g);
    
    
    var k2 = mk('rect', {x: r2 - k, y: 1376, width: k, height: 16, fill: '#111'}, g);
    
    
    var rtPts = d.left ? [(rs+8)+',1376',(re)+',1376',(re)+',1392',(rs+8)+',1392',(rs)+',1384'] : [(rs)+',1376',(re-8)+',1376',(re)+',1384',(re-8)+',1392',(rs)+',1392'];
    var rt = mk('polygon', {points: rtPts.join(' '), fill: '#f2c12e', stroke: '#111'}, g);
    
    
    var rtt = mk('text', {x: (rs + re) / 2, y: 1389, 'text-anchor': 'middle'}, g);
    rtt.textContent = 'RT segment';
    
    
  });
})();
</script>
</body></html>
